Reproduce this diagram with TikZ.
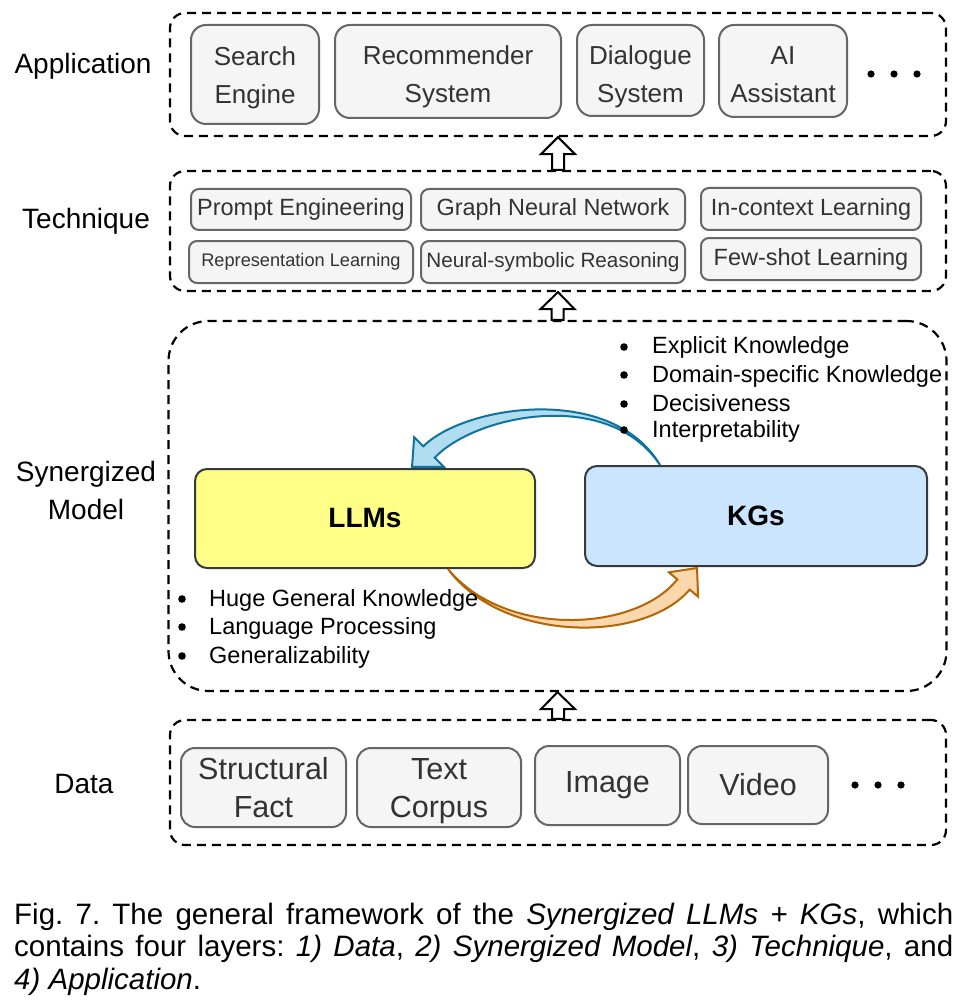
\documentclass[tikz,border=0pt]{standalone}
\usepackage{fontspec}
\setmainfont{Liberation Sans}
\usetikzlibrary{calc}
\definecolor{boxfill}{HTML}{F5F5F5}
\definecolor{boxline}{HTML}{666666}
\definecolor{boxtext}{HTML}{333333}
\definecolor{llmfill}{HTML}{FFFF88}
\definecolor{kgfill}{HTML}{CCE5FF}
\definecolor{darkline}{HTML}{36393D}
\definecolor{bluefill}{HTML}{B1DDF0}
\definecolor{blueline}{HTML}{10739E}
\definecolor{orfill}{HTML}{FAD7AC}
\definecolor{orline}{HTML}{B46504}
\newcommand\setfs[2]{\fontsize{#1}{#2}\selectfont}
\newcommand\hollowup[2]{%
  \draw[harrow] let \p1=(#1), \p2=(#2) in
    (\x2-6pt,\y2) -- (\x2-6pt,\y1-17pt) -- (\x2-17pt,\y1-17pt) -- (\x1,\y1)
    -- (\x2+17pt,\y1-17pt) -- (\x2+6pt,\y1-17pt) -- (\x2+6pt,\y2) -- cycle;}
\begin{document}
\begin{tikzpicture}[x=1pt,y=-1pt,
  layerbox/.style={draw=black, line width=2.2pt, dash pattern=on 9pt off 6pt,
    rounded corners=15pt, minimum width=776pt, inner sep=0pt},
  ibox/.style={draw=boxline, fill=boxfill, line width=2pt, text=boxtext,
    align=center, inner sep=0pt},
  appbox/.style={ibox, rounded corners=15pt, minimum width=#1},
  apptxt/.style={text=boxtext, align=center, inner sep=0pt, font=\setfs{26}{38.5}},
  techbox/.style={ibox, rounded corners=8pt, minimum width=#1, minimum height=41pt},
  databox/.style={ibox, rounded corners=14pt, minimum width=#1, font=\setfs{30.5}{38}},
  datatxt/.style={text=boxtext, align=center, inner sep=0pt, font=\setfs{30.5}{38}},
  lbl/.style={font=\setfs{28}{38}, align=center, text=black},
  core/.style={draw=darkline, line width=2pt, rounded corners=12pt,
    font=\bfseries\setfs{28}{34}, inner sep=0pt},
  bulc/.style={circle, fill=black, inner sep=0pt, minimum size=7.6pt},
  btxt/.style={anchor=base west, inner sep=0pt, font=\setfs{23.5}{26}},
  harrow/.style={draw=black, fill=white, line width=2pt, line join=miter},
  dot/.style={fill=black}
]
\fill[white] (0,0) rectangle (976,1008);
\useasboundingbox (0,0) rectangle (976,1008);

% ---------- Application layer ----------
\node[layerbox, minimum height=123pt] (app) at (558,74.5) {};
\node[lbl] (lapp) at (83,66) {Application};
\node[appbox=128pt, minimum height=99pt] (se) at (255,74.5) {};
\node[appbox=226pt, minimum height=93pt] (rs) at (448,71.5) {};
\node[appbox=127pt, minimum height=91pt] (ds) at (640.5,70.5) {};
\node[appbox=128pt, minimum height=92pt] (ai) at (783,71) {};
\node[apptxt] (se-t) at (255,78) {Search\\Engine};
\node[apptxt] (rs-t) at (448,77) {Recommender\\System};
\node[apptxt] (ds-t) at (640.5,77) {Dialogue\\System};
\node[apptxt] (ai-t) at (783,74.5) {AI\\Assistant};
\fill[dot] (871,74) circle (3.6pt) (894,74) circle (3.6pt) (917,74) circle (3.6pt);

% ---------- Technique layer ----------
\node[layerbox, minimum height=120pt] (tech) at (558,231) {};
\node[lbl] (ltech) at (86,221) {Technique};
\node[techbox=220pt, font=\setfs{23.5}{26}] (pe) at (301,209.5) {Prompt Engineering};
\node[techbox=264pt, font=\setfs{23.4}{26}] (gnn) at (553,209.5) {Graph Neural Network};
\node[techbox=220pt, minimum height=42pt, font=\setfs{23.4}{26}] (icl) at (811,209) {In-context Learning};
\node[techbox=224pt, minimum height=42pt, font=\setfs{18.2}{20}] (rl) at (301,262) {Representation Learning};
\node[techbox=264pt, minimum height=42pt, font=\setfs{20.7}{24}] (nsr) at (553,262) {Neural-symbolic Reasoning};
\node[techbox=220pt, minimum height=42pt, font=\setfs{23.5}{26}] (fsl) at (811,259) {Few-shot Learning};

% ---------- Synergized model layer ----------
\node[layerbox, rounded corners=40pt, minimum width=778pt, minimum height=370pt] (syn) at (557.5,506) {};
\node[lbl] (lsyn) at (86,490) {Synergized\\Model};
\node[core, fill=llmfill, minimum width=340pt, minimum height=99pt] (llms) at (365,518.5) {LLMs};
\node[core, fill=kgfill, minimum width=342pt, minimum height=100pt] (kgs) at (756,516) {KGs};

% KGs -> LLMs (blue, tapered)
\coordinate (btail) at ($(kgs.north west)+(76,0)$);
\coordinate (btip) at ($(llms.north west)+(218,-1)$);
\filldraw[fill=bluefill, draw=blueline, line width=2pt, line join=miter]
  (btail) .. controls (611.5,383) and (465,405) .. (423.3,446.3) -- (414.2,437.2) -- (btip)
  -- (443.8,466.8) -- (434.7,457.7) .. controls (475,415) and (608.5,387) .. (btail) -- cycle;
% LLMs -> KGs (orange, tapered)
\coordinate (otail) at ($(llms.south west)+(254,0)$);
\coordinate (otip) at ($(kgs.south west)+(113,1)$);
\filldraw[fill=orfill, draw=orline, line width=2pt, line join=miter]
  (otail) .. controls (501.5,642) and (642.5,644.3) .. (689.7,589.6) -- (698.1,596.7) -- (otip)
  -- (668.9,572.3) -- (677.3,579.4) .. controls (634.9,632.5) and (504.5,638) .. (otail) -- cycle;

% bullet lists
\node[bulc] (b1) at (624,347) {};
\node[btxt] (t1) at (652,353) {Explicit Knowledge};
\node[bulc] (b2) at (624,375) {};
\node[btxt] (t2) at (652,382) {Domain-specific Knowledge};
\node[bulc] (b3) at (624,404) {};
\node[btxt] (t3) at (652,411) {Decisiveness};
\node[bulc] (b4) at (624,430) {};
\node[btxt] (t4) at (652,437) {Interpretability};
\node[bulc] (b5) at (182,599) {};
\node[btxt] (t5) at (209,606) {Huge General Knowledge};
\node[bulc] (b6) at (182,627) {};
\node[btxt] (t6) at (209,634) {Language Processing};
\node[bulc] (b7) at (182,656) {};
\node[btxt] (t7) at (209,663) {Generalizability};

% ---------- Data layer ----------
\node[layerbox, minimum height=125pt] (data) at (558,782.5) {};
\node[lbl] (ldata) at (84,784) {Data};
\node[databox=165pt, minimum height=79pt] (sf) at (263.5,787.5) {Structural\\Fact};
\node[databox=164pt, minimum height=79pt] (tc) at (439,787.5) {};
\node[datatxt] (tc-t) at (439,791.5) {Text\\Corpus};
\node[databox=145pt, minimum height=79pt] (im) at (607.5,785.5) {Image};
\node[databox=140pt, minimum height=78pt] (vd) at (758,785) {Video};
\fill[dot] (855,785) circle (3.6pt) (878,785) circle (3.6pt) (901,785) circle (3.6pt);

% ---------- hollow arrows between layers ----------
\hollowup{app.south}{tech.north}
\hollowup{tech.south}{syn.north}
\hollowup{syn.south}{data.north}

% ---------- caption ----------
\node[anchor=north west, text width=939pt, align=justify, inner sep=0pt, font=\setfs{29.5}{32.5}] (cap) at (14,902.5)
 {\frenchspacing\noindent Fig. 7. The general framework of the \textit{Synergized LLMs + KGs}, which\linebreak
  contains four layers: \textit{1) Data}, \textit{2) Synergized Model}, \textit{3) Technique}, and\linebreak
  \textit{4) Application}.};
\end{tikzpicture}
\end{document}
